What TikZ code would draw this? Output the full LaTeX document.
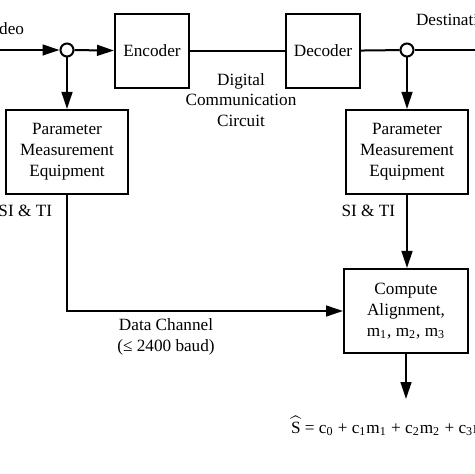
\documentclass[tikz,border=0pt]{standalone}
\usepackage{fontspec}
\setmainfont{Liberation Serif}
\usetikzlibrary{arrows.meta}
\tikzset{
  blockbox/.style={draw, line width=1pt, align=center, inner sep=1pt},
  joint/.style={draw, circle, fill=white, line width=1pt, minimum size=6.5pt, inner sep=0pt},
  lbl/.style={align=center, inner sep=0pt}
}
\begin{document}
\begin{tikzpicture}[>={Triangle[length=8.5pt,width=5.4pt]}, x=0.5pt, y=-0.5pt, line width=1pt,
    font=\fontsize{8.6}{10.4}\selectfont]
        \useasboundingbox (0,0) rectangle (474,474);

        % the two boxes on the line
        \node[blockbox, minimum width=37pt, minimum height=37pt] (enc) at (152,51) {Encoder};
        \node[blockbox, minimum width=37pt, minimum height=37pt] (dec) at (323,51) {Decoder};

        % the two joints on the line
        \node[joint] (jl) at (67,50) {};
        \node[joint] (jr) at (407,50) {};

        % the free ends of the line
        \coordinate (src) at (-2,50);
        \coordinate (dst) at (476,50);

        % the measurement boxes
        \node[blockbox, minimum width=61pt, minimum height=42pt] (pmel) at (67,152)
            {Parameter\\Measurement\\Equipment};
        \node[blockbox, minimum width=61pt, minimum height=42pt] (pmer) at (407,152)
            {Parameter\\Measurement\\Equipment};

        % the box that computes the result
        \node[blockbox, minimum width=62pt, minimum height=42pt] (comp) at (406,311)
            {Compute\\Alignment,\\m\textsubscript{1}, m\textsubscript{2}, m\textsubscript{3}};
        \coordinate (res) at (406,399);

        % The labels
        \node[lbl, anchor=base east] at (25,35) {Video};
        \node[lbl, anchor=base west] at (415,26) {Destination};
        \node[lbl] at (241,100) {Digital\\Communication\\Circuit};
        \node[lbl, anchor=base east] at (53,217) {SI \& TI};
        \node[lbl, anchor=base east] at (396,217) {SI \& TI};
        \node[lbl] at (166,337) {Data Channel\\(≤ 2400 baud)};
        \node[lbl, anchor=base west] at (290,433)
            {$\widehat{\mbox{S}}$ = c\textsubscript{0} + c\textsubscript{1}m\textsubscript{1}
             + c\textsubscript{2}m\textsubscript{2} + c\textsubscript{3}m\textsubscript{3}};

        % the main line
        \draw[->] (src) -- (jl);
        \draw[->] (jl) -- (enc);
        \draw (enc) -- (dec);
        \draw (dec) -- (jr);
        \draw (jr) -- (dst);

        % down to the measurement boxes
        \draw[->] (jl) -- (pmel);
        \draw[->] (jr) -- (pmer);

        % to the compute box and out of it
        \draw[->] (pmel.south) |- (comp.west);
        \draw[->] (pmer) -- (pmer |- comp.north);
        \draw[->] (comp) -- (res);
    \end{tikzpicture}
\end{document}
